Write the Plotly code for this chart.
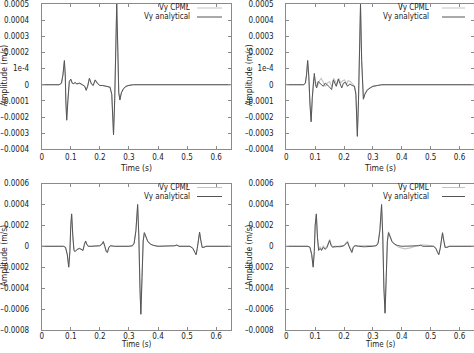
import plotly.graph_objects as go

# ---------------- data (time in s, amplitude in m/s) ----------------
# Panel 1 (top-left)
t1_ana = [0, 0.060, 0.068, 0.073, 0.078, 0.081, 0.083, 0.086, 0.090, 0.095, 0.100, 0.105, 0.110,
          0.115, 0.120, 0.130, 0.140, 0.148, 0.153, 0.158, 0.164, 0.171, 0.177, 0.184, 0.191,
          0.200, 0.210, 0.225, 0.235, 0.241, 0.247, 0.251, 0.254, 0.258, 0.262, 0.265, 0.269,
          0.274, 0.281, 0.290, 0.300, 0.316, 0.65]
v1_ana = [0, 0, 0.1e-4, 0.6e-4, 1.5e-4, 0.6e-4, -1.0e-4, -2.2e-4, -1.0e-4, 0.2e-4, 0.35e-4, 0.1e-4, 0.05e-4,
          0.15e-4, 0.05e-4, 0.1e-4, 0.0, -0.1e-4, -0.35e-4, -0.1e-4, 0.4e-4, 0.05e-4, -0.05e-4, 0.3e-4, 0.1e-4,
          -0.05e-4, -0.05e-4, -0.1e-4, -0.15e-4, -0.6e-4, -3.1e-4, -1.0e-4, 2.5e-4, 5.0e-4, 2.0e-4, -0.5e-4, -0.95e-4,
          -0.5e-4, -0.25e-4, -0.1e-4, -0.04e-4, 0, 0]
t1_cpml = [0, 0.060, 0.068, 0.073, 0.078, 0.081, 0.083, 0.086, 0.090, 0.095, 0.100, 0.105, 0.110,
           0.115, 0.120, 0.130, 0.140, 0.148, 0.153, 0.158, 0.164, 0.171, 0.177, 0.184, 0.191,
           0.200, 0.210, 0.225, 0.235, 0.241, 0.247, 0.251, 0.254, 0.258, 0.262, 0.265, 0.269,
           0.274, 0.281, 0.290, 0.300, 0.316, 0.65]
v1_cpml = [0, 0, 0.1e-4, 0.6e-4, 1.45e-4, 0.6e-4, -1.0e-4, -2.15e-4, -1.0e-4, 0.2e-4, 0.3e-4, 0.1e-4, 0.08e-4,
           0.12e-4, 0.05e-4, 0.08e-4, 0.0, -0.1e-4, -0.3e-4, -0.1e-4, 0.38e-4, 0.05e-4, -0.03e-4, 0.28e-4, 0.1e-4,
           -0.05e-4, -0.05e-4, -0.1e-4, -0.15e-4, -0.6e-4, -3.05e-4, -1.0e-4, 2.5e-4, 4.95e-4, 2.0e-4, -0.5e-4, -0.9e-4,
           -0.5e-4, -0.25e-4, -0.1e-4, -0.04e-4, 0, 0]

# Panel 2 (top-right)
t2_ana = [0, 0.060, 0.066, 0.070, 0.074, 0.078, 0.082, 0.086, 0.090, 0.094, 0.097, 0.101, 0.105,
          0.110, 0.115, 0.120, 0.128, 0.135, 0.142, 0.150, 0.157, 0.163, 0.168, 0.173, 0.180,
          0.186, 0.192, 0.198, 0.205, 0.212, 0.220, 0.228, 0.236, 0.241, 0.246, 0.250, 0.253,
          0.257, 0.261, 0.264, 0.267, 0.272, 0.280, 0.290, 0.300, 0.315, 0.330, 0.65]
v2_ana = [0, 0, 0.1e-4, 0.6e-4, 1.5e-4, 0.5e-4, -1.2e-4, -2.3e-4, -0.8e-4, 0.5e-4, 0.7e-4, 0.0, -0.2e-4,
          0.2e-4, 0.1e-4, 0.0, -0.1e-4, 0.1e-4, 0.0, -0.15e-4, -0.3e-4, 0.3e-4, 0.1e-4, -0.1e-4, 0.35e-4,
          0.0, -0.2e-4, 0.1e-4, 0.15e-4, -0.1e-4, 0.05e-4, -0.05e-4, -0.1e-4, -0.6e-4, -3.2e-4, -1.0e-4, 2.5e-4,
          5.0e-4, 1.5e-4, -0.6e-4, -0.9e-4, -0.6e-4, -0.35e-4, -0.2e-4, -0.1e-4, -0.05e-4, 0, 0]
t2_cpml = [0, 0.060, 0.066, 0.070, 0.074, 0.078, 0.082, 0.086, 0.090, 0.094, 0.098, 0.103, 0.108,
           0.115, 0.121, 0.128, 0.135, 0.142, 0.150, 0.158, 0.164, 0.170, 0.176, 0.182, 0.188,
           0.195, 0.202, 0.208, 0.214, 0.222, 0.230, 0.236, 0.241, 0.246, 0.250, 0.253, 0.257,
           0.261, 0.264, 0.267, 0.272, 0.280, 0.290, 0.300, 0.315, 0.335, 0.65]
v2_cpml = [0, 0, 0.1e-4, 0.6e-4, 1.5e-4, 0.5e-4, -1.2e-4, -2.2e-4, -0.9e-4, 0.3e-4, 0.5e-4, 0.0, -0.1e-4,
           0.25e-4, 0.4e-4, 0.15e-4, -0.1e-4, 0.1e-4, 0.2e-4, -0.15e-4, 0.4e-4, 0.2e-4, 0.0, 0.4e-4, 0.1e-4,
           0.25e-4, 0.3e-4, 0.0, 0.25e-4, 0.2e-4, 0.05e-4, -0.1e-4, -0.5e-4, -3.1e-4, -1.0e-4, 2.5e-4, 4.9e-4,
           1.5e-4, -0.5e-4, -0.85e-4, -0.55e-4, -0.3e-4, -0.2e-4, -0.1e-4, -0.05e-4, 0, 0]

# Panel 3 (bottom-left)
t3_ana = [0, 0.075, 0.082, 0.088, 0.093, 0.097, 0.100, 0.103, 0.107, 0.111, 0.115, 0.122, 0.130,
          0.137, 0.142, 0.147, 0.151, 0.155, 0.160, 0.170, 0.200, 0.207, 0.212, 0.217, 0.222,
          0.226, 0.231, 0.237, 0.250, 0.300, 0.312, 0.318, 0.324, 0.330, 0.334, 0.338, 0.341,
          0.345, 0.349, 0.353, 0.358, 0.365, 0.375, 0.385, 0.400, 0.450, 0.458, 0.465, 0.472,
          0.510, 0.520, 0.527, 0.531, 0.535, 0.539, 0.543, 0.547, 0.552, 0.558, 0.565, 0.65]
v3_ana = [0, 0, -0.1e-4, -0.8e-4, -2.0e-4, -0.5e-4, 2.0e-4, 3.1e-4, 1.0e-4, -0.4e-4, -0.5e-4, -0.3e-4, -0.2e-4,
          -0.3e-4, -0.4e-4, 0.2e-4, 0.5e-4, 0.2e-4, 0.0, 0.0, 0.05e-4, 0.2e-4, 0.45e-4, 0.0, -0.5e-4,
          -0.6e-4, -0.1e-4, 0.05e-4, 0.0, 0.0, 0.05e-4, 0.3e-4, 1.5e-4, 4.0e-4, 1.0e-4, -4.0e-4, -6.5e-4,
          -3.0e-4, 0.5e-4, 1.3e-4, 0.9e-4, 0.45e-4, 0.2e-4, 0.08e-4, 0.0, 0.0, 0.05e-4, 0.12e-4, 0.0,
          0.0, -0.2e-4, -0.6e-4, -0.8e-4, -0.2e-4, 0.8e-4, 1.35e-4, 0.6e-4, -0.1e-4, -0.1e-4, 0.0, 0]
t3_cpml = list(t3_ana)
v3_cpml = [0, 0, -0.1e-4, -0.8e-4, -1.95e-4, -0.5e-4, 2.0e-4, 3.05e-4, 1.0e-4, -0.4e-4, -0.5e-4, -0.3e-4, -0.2e-4,
           -0.3e-4, -0.35e-4, 0.2e-4, 0.5e-4, 0.2e-4, 0.0, 0.0, 0.05e-4, 0.2e-4, 0.45e-4, 0.0, -0.5e-4,
           -0.55e-4, -0.1e-4, 0.05e-4, 0.0, 0.0, 0.05e-4, 0.3e-4, 1.5e-4, 3.95e-4, 1.0e-4, -4.0e-4, -6.4e-4,
           -3.0e-4, 0.5e-4, 1.3e-4, 0.9e-4, 0.45e-4, 0.2e-4, 0.08e-4, 0.0, 0.0, 0.05e-4, 0.12e-4, 0.0,
           0.0, -0.2e-4, -0.6e-4, -0.8e-4, -0.2e-4, 0.8e-4, 1.3e-4, 0.6e-4, -0.1e-4, -0.1e-4, 0.0, 0]

# Panel 4 (bottom-right)
t4_ana = [0, 0.075, 0.082, 0.088, 0.093, 0.097, 0.100, 0.104, 0.108, 0.112, 0.117, 0.122, 0.128,
          0.135, 0.141, 0.146, 0.150, 0.155, 0.160, 0.170, 0.185, 0.200, 0.207, 0.212, 0.217,
          0.222, 0.227, 0.232, 0.238, 0.250, 0.270, 0.300, 0.312, 0.318, 0.324, 0.330, 0.334,
          0.338, 0.342, 0.346, 0.350, 0.354, 0.359, 0.366, 0.375, 0.385, 0.400, 0.450, 0.458,
          0.465, 0.472, 0.510, 0.518, 0.524, 0.528, 0.533, 0.537, 0.541, 0.545, 0.550, 0.556,
          0.565, 0.65]
v4_ana = [0, 0, -0.1e-4, -0.8e-4, -2.0e-4, -0.5e-4, 2.0e-4, 3.1e-4, 0.8e-4, -0.4e-4, -0.2e-4, -0.4e-4, -0.1e-4,
          -0.3e-4, -0.1e-4, 0.3e-4, 0.55e-4, 0.1e-4, -0.1e-4, 0.0, -0.05e-4, 0.05e-4, 0.3e-4, 0.4e-4, 0.0,
          -0.4e-4, -0.6e-4, -0.1e-4, 0.05e-4, 0.0, -0.05e-4, 0.0, 0.05e-4, 0.3e-4, 1.5e-4, 4.0e-4, 1.0e-4,
          -4.0e-4, -6.4e-4, -3.0e-4, 0.5e-4, 1.3e-4, 0.9e-4, 0.45e-4, 0.2e-4, 0.08e-4, 0.0, 0.0, 0.05e-4,
          0.1e-4, 0.0, 0.0, -0.2e-4, -0.6e-4, -0.8e-4, -0.2e-4, 0.8e-4, 1.3e-4, 0.6e-4, -0.1e-4, -0.1e-4,
          0.0, 0]
t4_cpml = [0, 0.075, 0.082, 0.088, 0.093, 0.097, 0.100, 0.104, 0.108, 0.112, 0.117, 0.122, 0.128,
           0.135, 0.141, 0.146, 0.150, 0.155, 0.160, 0.170, 0.185, 0.200, 0.207, 0.212, 0.217,
           0.222, 0.227, 0.232, 0.238, 0.250, 0.270, 0.300, 0.312, 0.318, 0.324, 0.330, 0.334,
           0.338, 0.342, 0.346, 0.350, 0.354, 0.359, 0.366, 0.375, 0.390, 0.410, 0.430, 0.450,
           0.470, 0.490, 0.510, 0.518, 0.524, 0.528, 0.533, 0.537, 0.541, 0.545, 0.550, 0.556,
           0.565, 0.65]
v4_cpml = [0, 0, -0.1e-4, -0.8e-4, -1.9e-4, -0.5e-4, 2.0e-4, 3.0e-4, 0.8e-4, -0.2e-4, -0.05e-4, -0.3e-4, 0.05e-4,
           -0.2e-4, 0.0, 0.4e-4, 0.65e-4, 0.2e-4, 0.0, -0.1e-4, 0.05e-4, 0.1e-4, 0.3e-4, 0.5e-4, 0.1e-4,
           -0.3e-4, -0.5e-4, -0.05e-4, 0.1e-4, 0.05e-4, 0.05e-4, 0.05e-4, 0.1e-4, 0.35e-4, 1.5e-4, 3.9e-4, 1.0e-4,
           -4.0e-4, -6.3e-4, -3.0e-4, 0.4e-4, 1.4e-4, 1.0e-4, 0.5e-4, 0.2e-4, -0.1e-4, -0.25e-4, -0.15e-4, 0.05e-4,
           0.15e-4, 0.1e-4, 0.0, -0.2e-4, -0.6e-4, -0.8e-4, -0.2e-4, 0.8e-4, 1.25e-4, 0.6e-4, -0.1e-4, -0.1e-4,
           0.0, 0]

x_ticks = [0, 0.1, 0.2, 0.3, 0.4, 0.5, 0.6]
x_labels = ["0", "0.1", "0.2", "0.3", "0.4", "0.5", "0.6"]
y_top_ticks = [5e-4, 4e-4, 3e-4, 2e-4, 1e-4, 0, -1e-4, -2e-4, -3e-4, -4e-4]
y_top_labels = ["0.0005", "0.0004", "0.0003", "0.0002", "1e-4", "0",
                "–0.0001", "–0.0002", "–0.0003", "–0.0004"]
y_bot_ticks = [6e-4, 4e-4, 2e-4, 0, -2e-4, -4e-4, -6e-4, -8e-4]
y_bot_labels = ["0.0006", "0.0004", "0.0002", "0", "–0.0002", "–0.0004", "–0.0006", "–0.0008"]

series_names = ["Vy CPML", "Vy analytical"]
CPML_COLOR = "#c4c4c4"
ANA_COLOR = "#555555"

W, H = 474, 353
FONT = "Liberation Sans Narrow, DejaVu Sans Condensed, Liberation Sans"
TXT = "#222"

panels = [
    (t1_cpml, v1_cpml, t1_ana, v1_ana),
    (t2_cpml, v2_cpml, t2_ana, v2_ana),
    (t3_cpml, v3_cpml, t3_ana, v3_ana),
    (t4_cpml, v4_cpml, t4_ana, v4_ana),
]

# pixel boxes of plot areas: (left, right, top, bottom)
boxes = [
    (41.7, 230.7, 4.0, 149.3),
    (286.3, 474.0, 4.0, 149.3),
    (41.7, 230.7, 183.5, 330.0),
    (286.3, 474.0, 183.5, 330.0),
]

fig = go.Figure()
layout = {}
for i, ((tc, vc, ta, va), (l, r, t, b)) in enumerate(zip(panels, boxes)):
    n = "" if i == 0 else str(i + 1)
    xa, ya = "x" + n, "y" + n
    fig.add_trace(go.Scatter(x=tc, y=vc, mode="lines", line=dict(color=CPML_COLOR, width=1.1),
                             xaxis=xa, yaxis=ya, showlegend=False, name=series_names[0]))
    fig.add_trace(go.Scatter(x=ta, y=va, mode="lines", line=dict(color=ANA_COLOR, width=1.0),
                             xaxis=xa, yaxis=ya, showlegend=False, name=series_names[1]))
    top = i < 2
    axcommon = dict(showline=True, linecolor="#8a8a8a", linewidth=1, mirror="ticks",
                    ticks="inside", ticklen=3, tickcolor="#8a8a8a", showgrid=False,
                    zeroline=False, automargin=False, ticklabeloverflow="allow",
                    tickfont=dict(family=FONT, size=8, color=TXT))
    layout["xaxis" + n] = dict(axcommon, domain=[l / W, r / W], range=[0, 0.65],
                               tickvals=x_ticks, ticktext=x_labels, anchor=ya,
                               ticklabelstandoff=0 if top else -2)
    layout["yaxis" + n] = dict(axcommon, domain=[1 - b / H, 1 - t / H],
                               range=[-4e-4, 5e-4] if top else [-8e-4, 6e-4],
                               tickvals=y_top_ticks if top else y_bot_ticks,
                               ticktext=y_top_labels if top else y_bot_labels, anchor=xa,
                               ticklabelstandoff=10)

annotations = []
shapes = []
for i, (l, r, t, b) in enumerate(boxes):
    top = i < 2
    # axis titles
    annotations.append(dict(text="Time (s)", x=((l + r) / 2) / W,
                            y=1 - (b + (18.5 if top else 14.5)) / H, xref="paper", yref="paper",
                            xanchor="center", yanchor="middle", showarrow=False,
                            font=dict(family=FONT, size=8.5 if top else 8, color=TXT)))
    annotations.append(dict(text="Amplitude (m/s)", x=(l - 37.5) / W, y=1 - ((t + b) / 2 - 1.5) / H,
                            xref="paper", yref="paper", xanchor="center", yanchor="middle",
                            showarrow=False, textangle=-90,
                            font=dict(family=FONT, size=8.5, color=TXT)))
    # legend (gnuplot style: text then line sample)
    text_right = 192 if i % 2 == 0 else 431
    line_l = 197 if i % 2 == 0 else 442
    line_r = 222 if i % 2 == 0 else 465
    for k, (name, col) in enumerate(zip(series_names, [CPML_COLOR, ANA_COLOR])):
        yy = t + 4 + 9 * k
        annotations.append(dict(text=name, x=text_right / W, y=1 - yy / H, xref="paper", yref="paper",
                                xanchor="right", yanchor="middle", showarrow=False,
                                font=dict(family=FONT, size=8, color=TXT)))
        shapes.append(dict(type="line", xref="paper", yref="paper", x0=line_l / W, x1=line_r / W,
                           y0=1 - yy / H, y1=1 - yy / H, line=dict(color=col, width=1)))

fig.update_layout(**layout)
fig.update_layout(width=W, height=H, margin=dict(l=0, r=0, t=0, b=0),
                  paper_bgcolor="white", plot_bgcolor="white",
                  annotations=annotations, shapes=shapes, showlegend=False)
fig.write_html("out.html")
